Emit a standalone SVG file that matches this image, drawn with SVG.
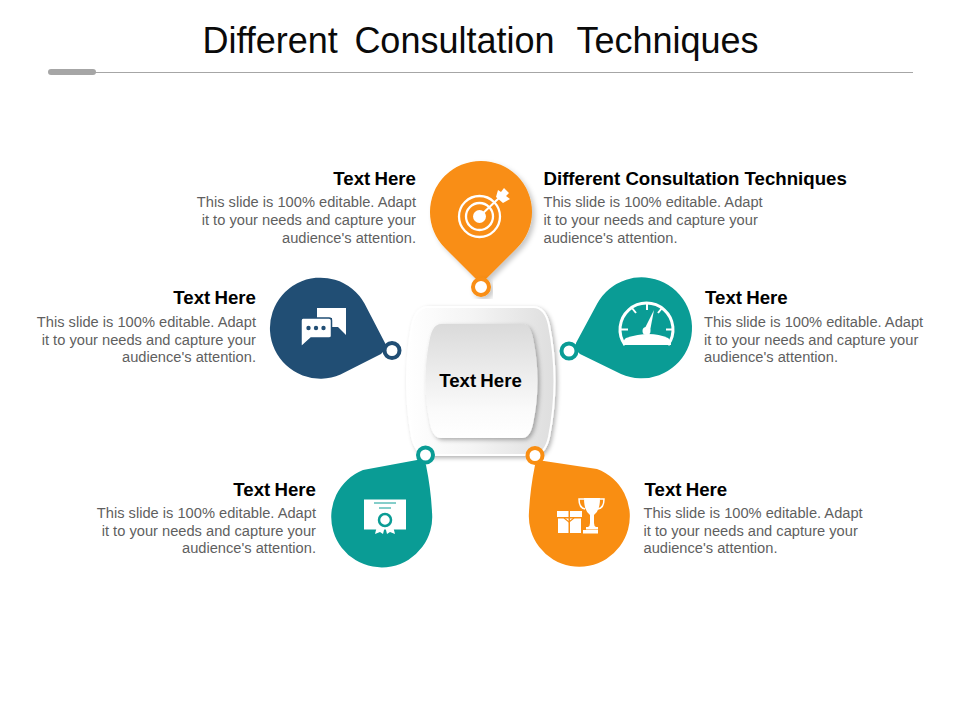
<svg xmlns="http://www.w3.org/2000/svg" width="960" height="720" viewBox="0 0 960 720">
<style>
.h{font:bold 18.67px "Liberation Sans",Arial,sans-serif;fill:#000}
.c{word-spacing:-1px}
.b{font:14.67px "Liberation Sans",Arial,sans-serif;fill:#5f5f5f}
.e{text-anchor:end}
.o{fill:#f98e12}.n{fill:#214e74}.t{fill:#0a9c95}
.ro{fill:#fff;stroke:#f98e12;stroke-width:4}.rn{fill:#fff;stroke:#214e74;stroke-width:4}.rt{fill:#fff;stroke:#0a9c95;stroke-width:4}
.w{fill:#fff}.ws{fill:none;stroke:#fff;stroke-width:2}
.sh{filter:url(#s)}
</style>
<defs>
<filter id="s" x="-20%" y="-20%" width="140%" height="140%"><feDropShadow dx="3" dy="3" stdDeviation="2.5" flood-color="#000" flood-opacity=".22"/></filter>
<filter id="s2" x="-20%" y="-20%" width="140%" height="140%"><feDropShadow dx="2" dy="2" stdDeviation="2" flood-color="#000" flood-opacity=".3"/></filter>
<linearGradient id="go" x1="0" y1="0" x2="1" y2="0"><stop offset="0" stop-color="#fff"/><stop offset=".45" stop-color="#f4f4f4"/><stop offset="1" stop-color="#dedede"/></linearGradient>
<linearGradient id="gi" x1="0" y1="0" x2="0" y2="1"><stop offset="0" stop-color="#dadada"/><stop offset=".75" stop-color="#fafafa"/><stop offset="1" stop-color="#fff"/></linearGradient>
</defs>
<g id="title">
<text x="480.5" y="53" text-anchor="middle" style="font:36px 'Liberation Sans',Arial,sans-serif;word-spacing:9.5px;fill:#0a0a0a">Different <tspan dx="-3">Consultation</tspan> <tspan dx="3">Techniques</tspan></text>
<line x1="90" y1="72.500" x2="913" y2="72.500" stroke="#a6a6a6" stroke-width="1"/>
<rect x="48" y="69" width="48" height="6" rx="3" fill="#a6a6a6"/>
</g>
<g id="center">
<path d="M428,307H533Q545,307 549,325Q560,381 549,437Q545,455 533,455H428Q416,455 412,437Q402,381 412,325Q416,307 428,307Z" fill="url(#go)" stroke="#fff" stroke-width="2" filter="url(#s2)"/>
<path d="M441,324H522Q530,324 533,338Q542,381 533,424Q530,438 522,438H441Q433,438 430,424Q421,381 430,338Q433,324 441,324Z" fill="url(#gi)" filter="url(#s2)"/>
<text class="h c" x="480.500" y="386.500" text-anchor="middle">Text Here</text>
</g>
<g id="connectors"></g>
<g id="node-top">
<path class="o sh" d="M476,279L445,248A51,51 0 1 1 517,248L486,279Z"/>
<circle class="ro sh" cx="481" cy="287" r="8"/>
<circle class="ws" cx="479.500" cy="216.500" r="20.500" style="stroke-width:2.300"/>
<circle class="ws" cx="479.500" cy="216.500" r="13.500" style="stroke-width:2.300"/>
<circle class="w" cx="479.500" cy="216.500" r="6.500"/>
<path d="M480,216L499,198" stroke="#fff" stroke-width="2" fill="none"/>
<path class="w" d="M496,197L498,190L501,192L504,188L509,193L506,196L510,199L503,203Z"/>
<text class="h c e" x="416" y="184.500">Text Here</text>
<text class="b e" x="416" y="207">This slide is 100% editable. Adapt</text>
<text class="b e" x="416" y="225">it to your needs and capture your</text>
<text class="b e" x="416" y="243">audience's attention.</text>
<text class="h" x="543.500" y="184.500">Different Consultation Techniques</text>
<text class="b" x="543.500" y="207">This slide is 100% editable. Adapt</text>
<text class="b" x="543.500" y="225">it to your needs and capture your</text>
<text class="b" x="543.500" y="243">audience's attention.</text>
</g>
<g id="node-left">
<path class="n" d="M385,343L364.500,303.500A50.500,50.500 0 1 0 340.500,374.500L381,354Q386,350 385,343Z"/>
<circle class="rn" cx="392" cy="350.500" r="7.500"/>
<path class="w" d="M317,308H346V335L338,327H332V318H317Z"/>
<path class="w" d="M303,318H329Q331.500,318 331.500,320.500V336Q331.500,338 329,338H311L301,347V320.500Q301,318 303,318Z" stroke="#214e74" stroke-width="1.500"/>
<circle class="n" cx="308.500" cy="328" r="2.200"/><circle class="n" cx="316" cy="328" r="2.200"/><circle class="n" cx="323.500" cy="328" r="2.200"/>
<text class="h c e" x="256" y="303.500">Text Here</text>
<text class="b e" x="256" y="327">This slide is 100% editable. Adapt</text>
<text class="b e" x="256" y="345">it to your needs and capture your</text>
<text class="b e" x="256" y="362">audience's attention.</text>
</g>
<g id="node-right">
<path class="t" d="M576,343L597,304A50.500,50.500 0 1 1 621,374L580,354Q575,350 576,343Z"/>
<circle class="rt" cx="569" cy="351" r="7.500"/>
<path d="M625,345A26.500,26.500 0 1 1 668,345" class="ws" style="stroke-width:3"/>
<path d="M647,303V310M632,308L636,313M662,308L658,313M621,329.500H628M666,329.500H673" class="ws"/>
<path class="w" d="M623,345H671Q671,340 668,338Q650,330 626,338Q623,340 623,345Z"/>
<path class="w" d="M644,330L654,310L650,331Z"/>
<circle class="w" cx="646.500" cy="331" r="4"/>
<text class="h c" x="705" y="303.500">Text Here</text>
<text class="b" x="704" y="327">This slide is 100% editable. Adapt</text>
<text class="b" x="704" y="345">it to your needs and capture your</text>
<text class="b" x="704" y="362">audience's attention.</text>
</g>
<g id="node-bottom-left">
<path class="t" d="M417,460L363,470A50.500,50.500 0 1 0 432,512Q431,490 426,465Q424,459 417,460Z"/>
<circle class="rt" cx="425.500" cy="455" r="7.500"/>
<rect class="w" x="364" y="499.500" width="42" height="30"/>
<path d="M374,503H396M379,508H391" stroke="#0a9c95" stroke-width="1" fill="none"/>
<path class="w" d="M378,522L375,534L380,532L383,534L385,526L387,534L390,532L395,534L392,522Z"/>
<circle cx="385" cy="520" r="6" fill="#fff" stroke="#0a9c95" stroke-width="2.500"/>
<text class="h c e" x="316" y="495.500">Text Here</text>
<text class="b e" x="316" y="518">This slide is 100% editable. Adapt</text>
<text class="b e" x="316" y="536">it to your needs and capture your</text>
<text class="b e" x="316" y="553">audience's attention.</text>
</g>
<g id="node-bottom-right">
<path class="o" d="M544,461L597,469A50.500,50.500 0 1 1 529,512Q530,490 535,465Q538,460 544,461Z"/>
<circle class="ro" cx="535" cy="455.500" r="7.500"/>
<path class="w" d="M557,511H568.500V517H557ZM570,511H582V517H570ZM558,518.500H568.500V533H558ZM570,518.500H581V533H570Z"/>
<path d="M564,518L569,522L574,518" stroke="#f98e12" stroke-width="1.200" fill="none"/>
<path class="w" d="M584,498H600Q600,511 594,515L594,523Q594,526 596,527H588Q590,526 590,523L590,515Q584,511 584,498Z"/>
<path d="M584,499H579Q579,508 585,509M600,499H604Q604,508 598,509" class="ws" style="stroke-width:1.500"/>
<rect class="w" x="586" y="527" width="12" height="2.500"/><rect class="w" x="583" y="530" width="15" height="3.500"/>
<text class="h c" x="644.500" y="495.500">Text Here</text>
<text class="b" x="643.500" y="518">This slide is 100% editable. Adapt</text>
<text class="b" x="643.500" y="536">it to your needs and capture your</text>
<text class="b" x="643.500" y="553">audience's attention.</text>
</g>
</svg>
